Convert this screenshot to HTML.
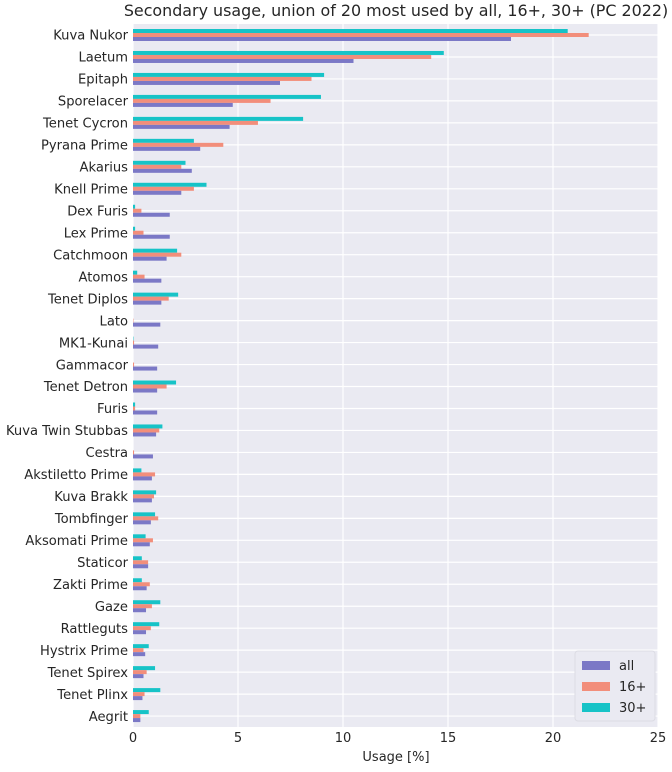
<!DOCTYPE html>
<html><head><meta charset="utf-8"><style>
body{margin:0;background:#fff;font-family:"DejaVu Sans","Liberation Sans",sans-serif}
</style></head><body>
<svg id="c" width="672" height="768" xmlns="http://www.w3.org/2000/svg" font-family="DejaVu Sans, Liberation Sans, sans-serif"></svg>
<script>
const categories=["Kuva Nukor","Laetum","Epitaph","Sporelacer","Tenet Cycron","Pyrana Prime","Akarius","Knell Prime","Dex Furis","Lex Prime","Catchmoon","Atomos","Tenet Diplos","Lato","MK1-Kunai","Gammacor","Tenet Detron","Furis","Kuva Twin Stubbas","Cestra","Akstiletto Prime","Kuva Brakk","Tombfinger","Aksomati Prime","Staticor","Zakti Prime","Gaze","Rattleguts","Hystrix Prime","Tenet Spirex","Tenet Plinx","Aegrit"];
const allValues=[18.0,10.5,7.0,4.75,4.6,3.2,2.8,2.3,1.75,1.75,1.6,1.35,1.35,1.3,1.2,1.15,1.15,1.15,1.1,0.95,0.9,0.9,0.85,0.8,0.72,0.65,0.62,0.62,0.58,0.5,0.45,0.35];
const v16Values=[21.7,14.2,8.5,6.55,5.95,4.3,2.3,2.9,0.4,0.5,2.3,0.55,1.7,0.02,0.05,0.05,1.6,0.1,1.25,0.05,1.05,1.0,1.2,0.95,0.72,0.8,0.9,0.85,0.5,0.65,0.55,0.35];
const v30Values=[20.7,14.8,9.1,8.95,8.1,2.9,2.5,3.5,0.1,0.1,2.1,0.2,2.15,0,0.02,0,2.05,0.1,1.4,0,0.4,1.1,1.05,0.6,0.42,0.42,1.3,1.25,0.75,1.05,1.3,0.75];
const xTicks=[0,5,10,15,20,25];
const svg=document.getElementById('c');const NS='http://www.w3.org/2000/svg';
const L=133,R=658,T=24,B=727;
const x=v=>L+(R-L)*v/25;
const y=i=>35+i*21.97;
function mk(t,a,name,p){const e=document.createElementNS(NS,t);for(const k in a)e.setAttribute(k,a[k]);


(p||svg).appendChild(e);return e;}
mk('rect',{x:L,y:T,width:R-L,height:B-T,fill:'#eaeaf2'},'plot-background');
xTicks.forEach(t=>{mk('line',{x1:x(t),x2:x(t),y1:T,y2:B,stroke:'#fff','stroke-width':1.2},'x-grid-line');
const tx=mk('text',{x:x(t),y:742,'text-anchor':'middle','font-size':13,fill:'#262626'},'x-tick-label');tx.textContent=t;});
categories.forEach((c,i)=>{mk('line',{x1:L,x2:R,y1:y(i),y2:y(i),stroke:'#fff','stroke-width':1.2},'y-grid-line');
const tx=mk('text',{x:128,y:y(i)+4.7,'text-anchor':'end','font-size':13.1,fill:'#262626'},'y-tick-label');tx.textContent=c;});
const series=[[v30Values,'#17c3c7',-6,'bar-30plus'],[v16Values,'#f28e7b',-2,'bar-16plus'],[allValues,'#7b78c6',2,'bar-all']];
series.forEach(([vals,col,off,nm])=>vals.forEach((v,i)=>{mk('rect',{x:L,y:y(i)+off,width:Math.max(0,x(v)-L),height:4,fill:col},nm);}));
const t=mk('text',{x:396,y:16,'text-anchor':'middle','font-size':15.9,fill:'#262626'},'chart-title');t.textContent='Secondary usage, union of 20 most used by all, 16+, 30+ (PC 2022)';
const xl=mk('text',{x:396,y:761,'text-anchor':'middle','font-size':13,fill:'#262626'},'x-axis-title');xl.textContent='Usage [%]';
const lg=mk('g',{},'legend');
mk('rect',{x:575,y:651,width:80,height:70,fill:'#eaeaf2',stroke:'#dcdce4',rx:3},'legend-box',lg);
[['all','#7b78c6'],['16+','#f28e7b'],['30+','#17c3c7']].forEach(([n,c],i)=>{
mk('rect',{x:582,y:661+i*21,width:28,height:9,fill:c},'legend-swatch',lg);
const tx=mk('text',{x:619,y:670+i*21,'font-size':13,fill:'#262626'},'legend-entry',lg);tx.textContent=n;});
</script>
</body></html>
